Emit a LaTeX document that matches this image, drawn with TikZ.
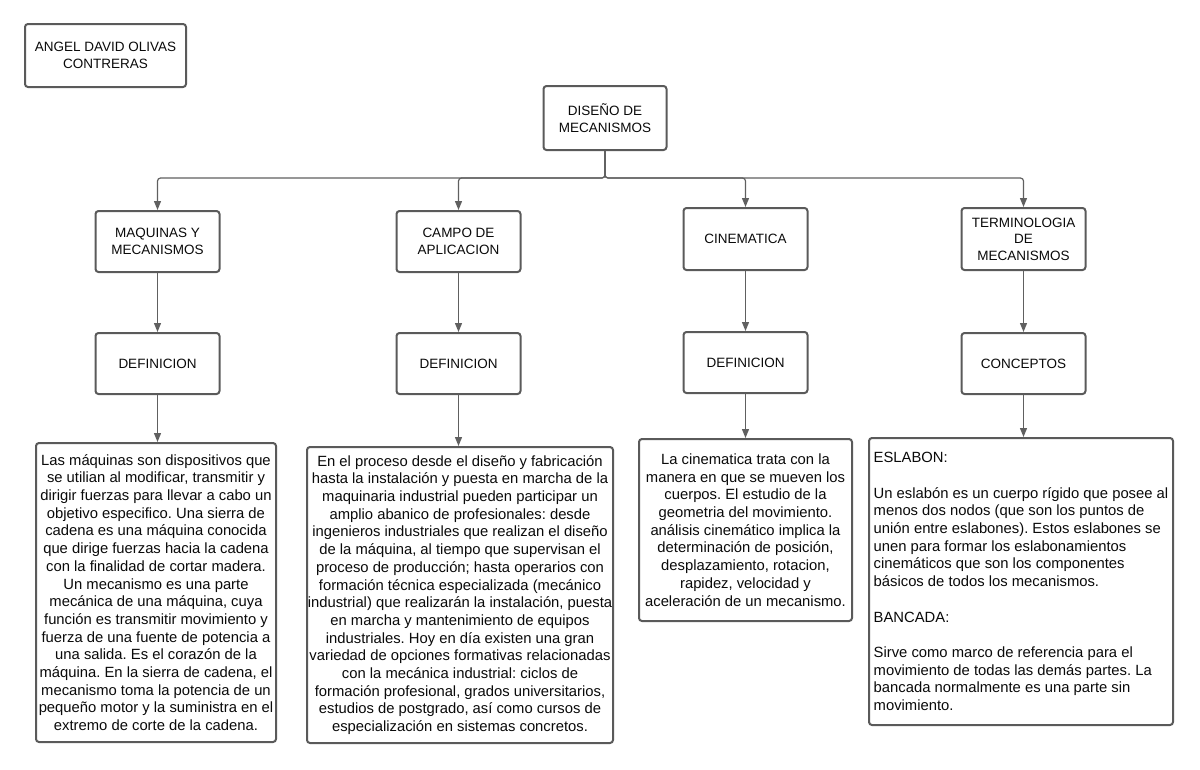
\documentclass[tikz,border=0pt]{standalone}
\usepackage{fontspec}
\setmainfont{Liberation Sans}
\usepackage{tikz}
\usetikzlibrary{arrows.meta}
\definecolor{mecline}{HTML}{5A5A5A}
\definecolor{mecarrow}{HTML}{606060}
\definecolor{mectext}{HTML}{0A0A0A}
\frenchspacing

\begin{document}
\begin{tikzpicture}[x=1pt,y=-1pt,
  box/.style={draw=mecline, line width=2pt, rounded corners=3pt, fill=white,
    text=mectext, inner sep=2pt},
  head/.style={box, minimum width=124pt, minimum height=61pt, align=center,
    font=\fontsize{13.5}{16.5}\selectfont},
  textbox/.style={box, inner sep=1pt, font=\fontsize{14.8}{17.7}\selectfont},
  conn/.style={draw=mecarrow, line width=1.2pt, rounded corners=3pt,
    -{Triangle[length=9pt,width=7pt]}}]
  \useasboundingbox (0,0) rectangle (1200,769);
  \coordinate (bus) at (0,178);
  % titulo y autor
  \node[head, minimum width=161pt, minimum height=63pt] (autor) at (105.5,55.5)
    {ANGEL DAVID OLIVAS\\CONTRERAS};
  \node[head, minimum width=123pt, minimum height=64pt] (diseno) at (605,118)
    {DISEÑO DE\\MECANISMOS};
  % primer nivel
  \node[head] (maq) at (157.5,241.5) {MAQUINAS Y\\MECANISMOS};
  \node[head] (campo) at (458.5,241.5) {CAMPO DE\\APLICACION};
  \node[head, minimum height=62pt] (cine) at (745.5,239) {CINEMATICA};
  \node[head, minimum height=62pt] (term) at (1023.5,239) {TERMINOLOGIA\\DE\\MECANISMOS};
  % segundo nivel
  \node[head] (def1) at (157.5,363.5) {DEFINICION};
  \node[head] (def2) at (458.5,363.5) {DEFINICION};
  \node[head] (def3) at (745.5,362.5) {DEFINICION};
  \node[head] (conc) at (1023.5,363.5) {CONCEPTOS};
  % textos
  \node[textbox, minimum width=240pt, minimum height=299pt, align=center]
    (txt1) at (156,592.5)
    {Las máquinas son dispositivos que\\
     se utilian al modificar, transmitir y\\
     dirigir fuerzas para llevar a cabo un\\
     objetivo especifico. Una sierra de\\
     cadena es una máquina conocida\\
     que dirige fuerzas hacia la cadena\\
     con la finalidad de cortar madera.\\
     Un mecanismo es una parte\\
     mecánica de una máquina, cuya\\
     función es transmitir movimiento y\\
     fuerza de una fuente de potencia a\\
     una salida. Es el corazón de la\\
     máquina. En la sierra de cadena, el\\
     mecanismo toma la potencia de un\\
     pequeño motor y la suministra en el\\
     extremo de corte de la cadena.};
  \node[textbox, inner sep=0pt, minimum width=306pt, minimum height=296pt,
    align=center] (txt2) at (460,595)
    {En el proceso desde el diseño y fabricación\\
     hasta la instalación y puesta en marcha de la\\
     maquinaria industrial pueden participar un\\
     amplio abanico de profesionales: desde\\
     ingenieros industriales que realizan el diseño\\
     de la máquina, al tiempo que supervisan el\\
     proceso de producción; hasta operarios con\\
     formación técnica especializada (mecánico\\
     industrial) que realizarán la instalación, puesta\\
     en marcha y mantenimiento de equipos\\
     industriales. Hoy en día existen una gran\\
     variedad de opciones formativas relacionadas\\
     con la mecánica industrial: ciclos de\\
     formación profesional, grados universitarios,\\
     estudios de postgrado, así como cursos de\\
     especialización en sistemas concretos.};
  \node[textbox, minimum width=213pt, minimum height=182pt, align=center]
    (txt3) at (745.5,530)
    {La cinematica trata con la\\
     manera en que se mueven los\\
     cuerpos. El estudio de la\\
     geometria del movimiento.\\
     análisis cinemático implica la\\
     determinación de posición,\\
     desplazamiento, rotacion,\\
     rapidez, velocidad y\\
     aceleración de un mecanismo.};
  \node[textbox, inner sep=3pt, minimum width=304pt, minimum height=287pt,
    align=left] (txt4) at (1021,581.5)
    {ESLABON:\\[\baselineskip]
     Un eslabón es un cuerpo rígido que posee al\\
     menos dos nodos (que son los puntos de\\
     unión entre eslabones). Estos eslabones se\\
     unen para formar los eslabonamientos\\
     cinemáticos que son los componentes\\
     básicos de todos los mecanismos.\\[\baselineskip]
     BANCADA:\\[\baselineskip]
     Sirve como marco de referencia para el\\
     movimiento de todas las demás partes. La\\
     bancada normalmente es una parte sin\\
     movimiento.};
  % conectores
  \foreach \n in {maq,campo,cine,term}
    \draw[conn] (diseno.south) |- (bus -| \n.north) -- (\n.north);
  \foreach \a/\b in {maq/def1,campo/def2,cine/def3,term/conc}
    \draw[conn] (\a.south) -- (\b.north);
  \foreach \a/\b in {def1/txt1,def2/txt2,def3/txt3,conc/txt4}
    \draw[conn] (\a.south) -- (\a.south |- \b.north);
\end{tikzpicture}
\end{document}
